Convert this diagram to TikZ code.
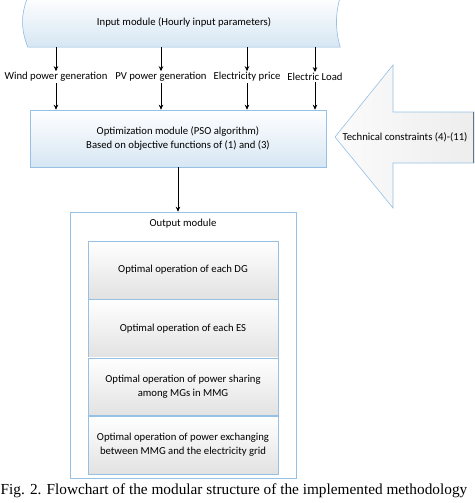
\documentclass[tikz,border=0pt]{standalone}
\usepackage{fontspec}
\setmainfont{Carlito}
\newfontfamily\capfont{Liberation Serif}
\usepackage{xcolor}
\usepackage{tikz}
\usetikzlibrary{arrows.meta,positioning,shadows,backgrounds}

\definecolor{edgeblue}{RGB}{150,192,228}
\definecolor{fillblue}{RGB}{214,230,243}
\definecolor{fillgray}{RGB}{226,226,226}

\begin{document}
\begin{tikzpicture}[x=1pt, y=-1pt,
  box/.style={draw=edgeblue, line width=0.6pt, align=center, font=\fontsize{10.7}{14}\selectfont,
    drop shadow={shadow xshift=1.2pt, shadow yshift=-1.2pt, fill=black!45, opacity=.55}},
  graybox/.style={box, top color=white, bottom color=fillgray, minimum width=190pt, minimum height=57.75pt},
  lbl/.style={font=\fontsize{10.7}{13}\selectfont, inner sep=1pt},
  arrow/.style={-{Stealth[length=5pt,width=4.5pt]}, draw, line width=0.7pt},
]
\useasboundingbox (0,0) rectangle (474,503);

% input module (stored data shape)
\node[minimum width=312pt, minimum height=50pt, font=\fontsize{10.7}{13}\selectfont] (inp) at (184,22) {Input module (Hourly input parameters)};
\begin{scope}[on background layer]
\fill[black!40, opacity=.6, xshift=1.2pt, yshift=-1.2pt]
  (inp.north west) -- (inp.north east) .. controls +(-5,18) and +(-5,-18) .. (inp.south east)
  -- (inp.south west) .. controls +(-7,-18) and +(-7,18) .. (inp.north west) -- cycle;
\shade[draw=edgeblue, line width=0.6pt, top color=white, bottom color=fillblue]
  (inp.north west) -- (inp.north east) .. controls +(-5,18) and +(-5,-18) .. (inp.south east)
  -- (inp.south west) .. controls +(-7,-18) and +(-7,18) .. (inp.north west) -- cycle;
\end{scope}

% input parameters
\node[lbl] (wind)  at (56,77)  {Wind power generation};
\node[lbl] (pv)    at (161,77) {PV power generation};
\node[lbl] (price) at (247,77) {Electricity price};
\node[lbl] (load)  at (315,77) {Electric Load};

% optimization module
\node[box, top color=white, bottom color=fillblue, minimum width=296pt, minimum height=57pt] (opt) at (178,138.5)
  {Optimization module (PSO algorithm)\\Based on objective functions of (1) and (3)};

\foreach \p in {wind,pv,price,load}{
  \draw[arrow] (\p.north |- inp.south) -- (\p.north);
  \draw[arrow] (\p.south) -- (\p.south |- opt.north);
}

% technical constraints
\shade[draw=edgeblue, line width=0.6pt, left color=gray!3, right color=gray!14]
  (335,137) -- (393,65) -- (393,112) -- (474,112) -- (474,163) -- (393,163) -- (393,208) -- cycle;
\draw[black!55, line width=1pt] (473.5,112) -- (473.5,163);
\node[lbl] (tech) at (405,137) {Technical constraints (4)-(11)};

% output module
\node[box, fill=white, minimum width=226pt, minimum height=266pt] (out) at (183,345) {};
\node[lbl, below=6pt of out.north] (outtitle) {Output module};
\node[graybox] (dg) at (183,270) {Optimal operation of each DG};
\node[graybox, below=0pt of dg] (es) {Optimal operation of each ES};
\node[graybox, below=0pt of es] (share) {Optimal operation of power sharing\\among MGs in MMG};
\node[graybox, below=0pt of share] (grid) {Optimal operation of power exchanging\\between MMG and the electricity grid};

\draw[arrow] (opt.south) -- (opt.south |- out.north);

% caption
\node[anchor=west, inner sep=0pt, font=\capfont\fontsize{15.3}{17}\selectfont] (cap) at (0.5,491)
  {Fig. 2. Flowchart of the modular structure of the implemented methodology};
\end{tikzpicture}
\end{document}
